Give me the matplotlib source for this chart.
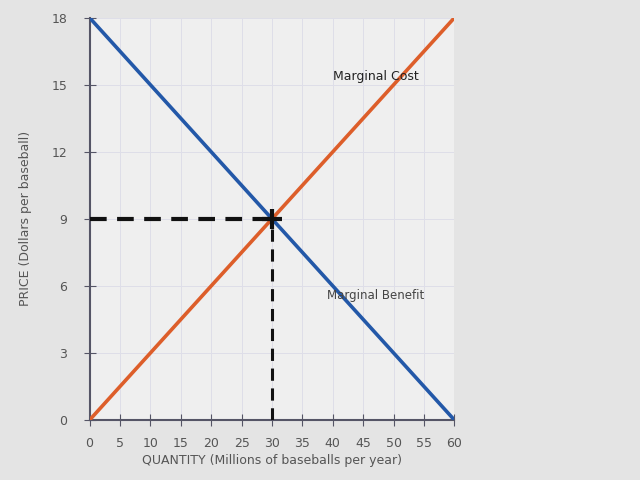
"""marginal benefit / marginal cost chart"""

import matplotlib
matplotlib.use('Agg')
import matplotlib.pyplot as plt

quantity = [0, 60]
marginal_benefit = [18, 0]
marginal_cost = [0, 18]
eq_quantity = 30
eq_price = 9
x_ticks = list(range(0, 61, 5))
y_ticks = [0, 3, 6, 9, 12, 15, 18]

fig = plt.figure(figsize=(6.4, 4.8), dpi=100, facecolor='#e4e4e4')
ax = fig.add_axes([0.14, 0.125, 0.57, 0.838])
ax.set_facecolor('#efefef')

ax.plot(quantity, marginal_benefit, color='#2358a8', lw=2.6,
        solid_capstyle='butt', zorder=3)
ax.plot(quantity, marginal_cost, color='#dd5e2a', lw=2.6,
        solid_capstyle='butt', zorder=3)

ax.plot([0, eq_quantity], [eq_price, eq_price], color='#111111', lw=3,
        dashes=(4, 2.5), zorder=4)
ax.plot([eq_quantity, eq_quantity], [0, eq_price], color='#111111', lw=2.2,
        dashes=(4, 2.5), zorder=4)
ax.plot(eq_quantity, eq_price, marker='+', ms=14, mew=3, color='#111111',
        zorder=5)

ax.text(40, 15.2, 'Marginal Cost', fontsize=9, color='#222222')
ax.text(39, 5.4, 'Marginal Benefit', fontsize=8.5, color='#444444')

ax.set_xlim(0, 60)
ax.set_ylim(0, 18)
ax.set_xticks(x_ticks)
ax.set_yticks(y_ticks)
ax.grid(True, color='#dedee8', lw=0.7)
ax.set_axisbelow(True)
for side in ['top', 'right']:
    ax.spines[side].set_visible(False)
for side in ['left', 'bottom']:
    ax.spines[side].set_color('#555566')
    ax.spines[side].set_linewidth(1.5)
ax.tick_params(direction='inout', length=8, color='#555566',
               labelcolor='#555555', labelsize=9)
ax.tick_params(axis='y', pad=12)
ax.tick_params(axis='x', pad=8)
ax.set_xlabel('QUANTITY (Millions of baseballs per year)', fontsize=9,
              color='#555555', labelpad=3)
ax.set_ylabel('PRICE (Dollars per baseball)', fontsize=9,
              color='#555555', labelpad=14)

plt.savefig('out.png', dpi=100, facecolor=fig.get_facecolor())
